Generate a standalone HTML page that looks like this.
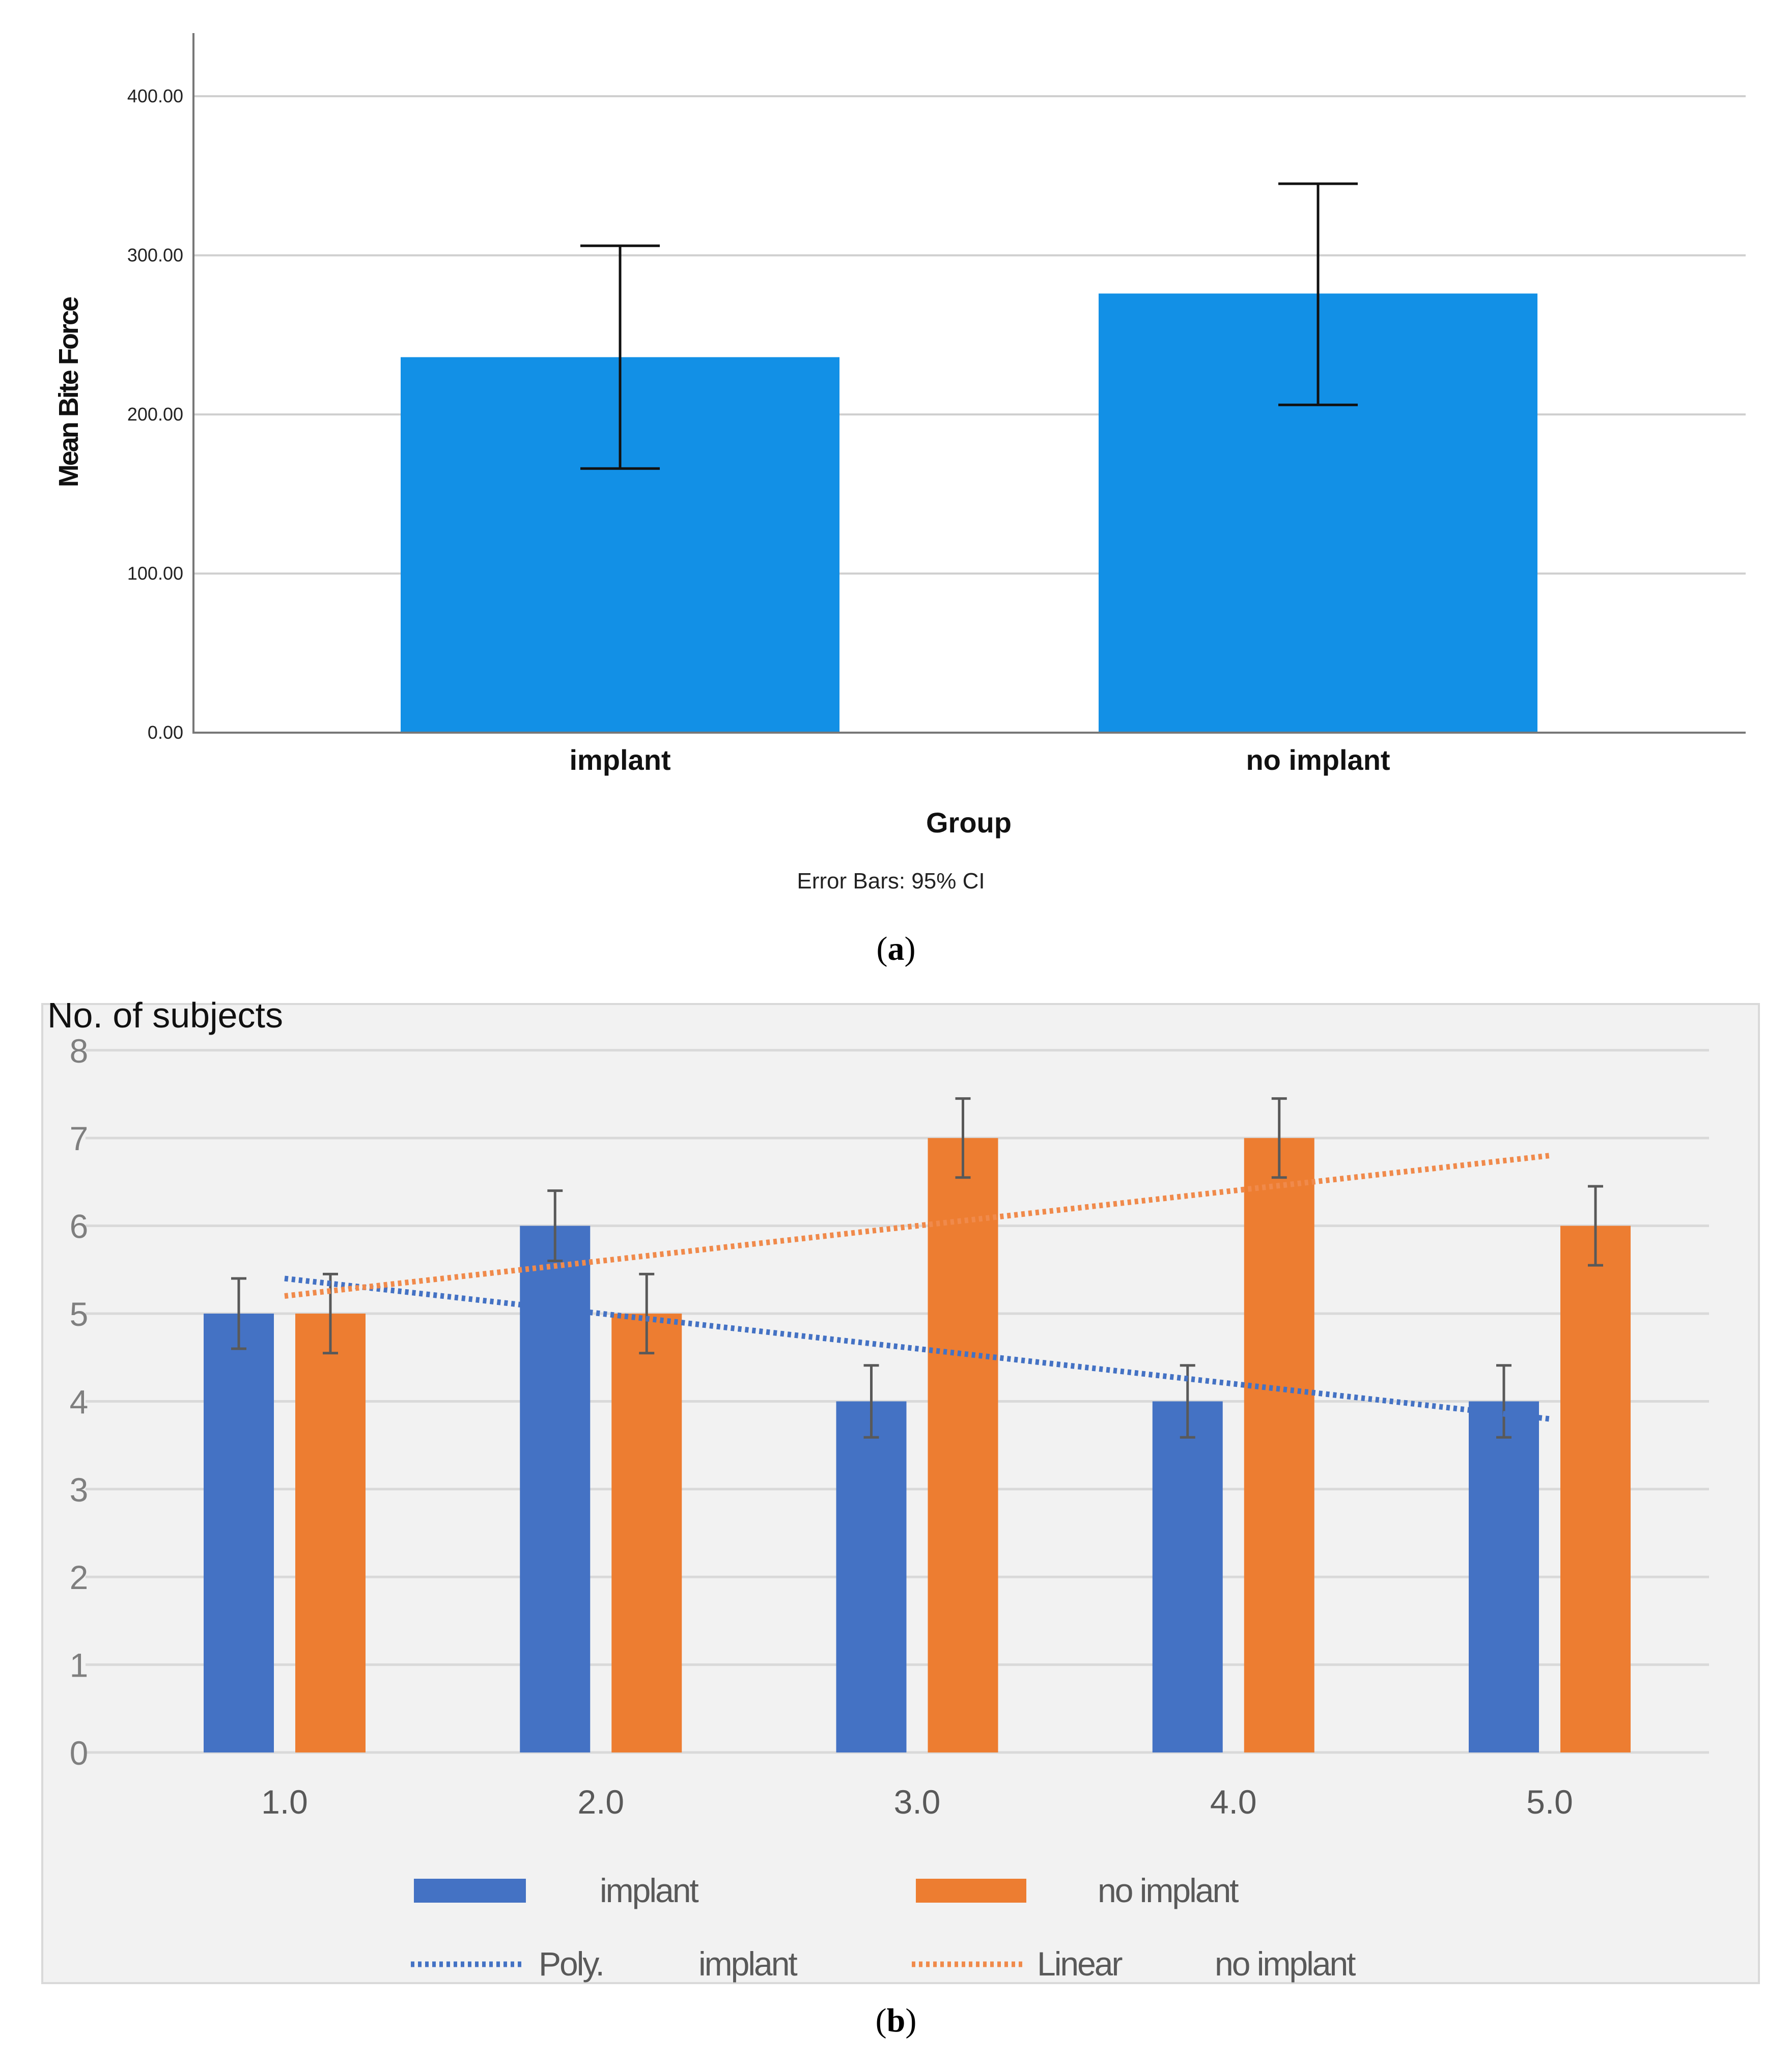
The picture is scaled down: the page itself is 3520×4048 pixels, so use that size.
<!DOCTYPE html>
<html><head><meta charset="utf-8"><style>
html,body{margin:0;padding:0;background:#fff;}
svg{display:block;}
text{font-family:"Liberation Sans",sans-serif;}
</style></head><body>
<svg id="root" width="3520" height="4048" viewBox="0 0 3520 4048" xmlns="http://www.w3.org/2000/svg">
<g id="chartA"></g>
<text x="1760" y="1885" text-anchor="middle" font-size="66" style="font-family:'Liberation Serif',serif">(<tspan font-weight="bold">a</tspan>)</text>
<rect x="83" y="1972" width="3372" height="1923" fill="#f2f2f2" stroke="#d9d9d9" stroke-width="4"/>
<g id="chartB"></g>
<text x="1760" y="3990" text-anchor="middle" font-size="66" style="font-family:'Liberation Serif',serif">(<tspan font-weight="bold">b</tspan>)</text>
</svg>
<script>
// ---- Chart A data ----
const groupsA = ["implant", "no implant"];
const meansA = [236, 276];
const ciLowA = [166, 206];
const ciHighA = [306, 345];
const ticksA = [0, 100, 200, 300, 400];
const tickLabelsA = ["0.00", "100.00", "200.00", "300.00", "400.00"];

// ---- Chart B data ----
const catsB = ["1.0", "2.0", "3.0", "4.0", "5.0"];
const implantB = [5, 6, 4, 4, 4];
const noImplantB = [5, 5, 7, 7, 6];
const implantErrB = [0.4, 0.4, 0.41, 0.41, 0.41];
const noImplantErrB = [0.45, 0.45, 0.45, 0.45, 0.45];
const ticksB = [0, 1, 2, 3, 4, 5, 6, 7, 8];

const NS = "http://www.w3.org/2000/svg";
function mk(parent, tag, attrs, txt) {
  const e = document.createElementNS(NS, tag);
  for (const k in attrs) e.setAttribute(k, attrs[k]);
  if (txt !== undefined) e.textContent = txt;
  parent.appendChild(e);
  return e;
}

// ===== Chart A =====
(function () {
  const g = document.getElementById("chartA");
  const x0 = 380, x1 = 3429, yZero = 1439, yPer = 312.5 / 100;
  const yA = v => yZero - v * yPer;
  const centers = [1218, 2589];
  const bw = 862;
  ticksA.forEach((t, i) => {
    if (t > 0) {
      const l = mk(g, "line", {x1: x0, x2: x1, y1: yA(t), y2: yA(t), stroke: "#cfcfcf", "stroke-width": 4});
      
      
    }
    const tx = mk(g, "text", {x: 360, y: yA(t) + 12, "text-anchor": "end", "font-size": 36, fill: "#222"}, tickLabelsA[i]);
    
    
  });
  meansA.forEach((m, i) => {
    const c = centers[i];
    const r = mk(g, "rect", {x: c - bw / 2, y: yA(m), width: bw, height: yA(0) - yA(m), fill: "#1290e6"});
    
    
    const e = mk(g, "path", {d: `M${c},${yA(ciLowA[i])}V${yA(ciHighA[i])}M${c - 78},${yA(ciLowA[i])}H${c + 78}M${c - 78},${yA(ciHighA[i])}H${c + 78}`, stroke: "#111", "stroke-width": 5, fill: "none"});
    
    
    const lb = mk(g, "text", {x: c, y: 1512, "text-anchor": "middle", "font-size": 56, "font-weight": "bold", fill: "#111"}, groupsA[i]);
    
    
  });
  const ax = mk(g, "path", {d: `M${x0},65V${yZero}H${x1}`, stroke: "#777", "stroke-width": 4, fill: "none"});
  
  
  const yt = mk(g, "text", {x: 0, y: 0, transform: "translate(153,771) rotate(-90)", "text-anchor": "middle", "font-size": 54, "font-weight": "bold", fill: "#111", "letter-spacing": "-3"}, "Mean Bite Force");
  
  
  const xt = mk(g, "text", {x: 1903, y: 1635, "text-anchor": "middle", "font-size": 56, "font-weight": "bold", fill: "#111"}, "Group");
  
  
  const nt = mk(g, "text", {x: 1750, y: 1745, "text-anchor": "middle", "font-size": 44, fill: "#222"}, "Error Bars: 95% CI");
  
  
})();

// ===== Chart B =====
(function () {
  const g = document.getElementById("chartB");
  const gx0 = 168, gx1 = 3357, yZero = 3442, yPer = 172.4;
  const yB = v => yZero - v * yPer;
  const xB = i => 559 + i * 621.25;
  const bw = 138, off = 90;
  ticksB.forEach(t => {
    const l = mk(g, "line", {x1: gx0, x2: gx1, y1: yB(t), y2: yB(t), stroke: "#d9d9d9", "stroke-width": 5});
    
    
    const tx = mk(g, "text", {x: 155, y: yB(t) + 24, "text-anchor": "middle", "font-size": 66, fill: "#7f7f7f"}, String(t));
    
    
  });
  function errBar(cx, v, err) {
    const p = mk(g, "path", {d: `M${cx},${yB(v - err)}V${yB(v + err)}M${cx - 15},${yB(v - err)}H${cx + 15}M${cx - 15},${yB(v + err)}H${cx + 15}`, stroke: "#595959", "stroke-width": 5, fill: "none"});
    
    
  }
  catsB.forEach((c, i) => {
    const bx = xB(i) - off, ox = xB(i) + off;
    const r1 = mk(g, "rect", {x: bx - bw / 2, y: yB(implantB[i]), width: bw, height: yB(0) - yB(implantB[i]), fill: "#4472c4"});
    
    
    const r2 = mk(g, "rect", {x: ox - bw / 2, y: yB(noImplantB[i]), width: bw, height: yB(0) - yB(noImplantB[i]), fill: "#ed7d31"});
    
    
    errBar(bx, implantB[i], implantErrB[i]);
    errBar(ox, noImplantB[i], noImplantErrB[i]);
    const tx = mk(g, "text", {x: xB(i), y: 3562, "text-anchor": "middle", "font-size": 66, fill: "#595959"}, c);
    
    
  });
  // least-squares fits from data
  function fit(ys) {
    const n = ys.length, xs = ys.map((_, i) => i + 1);
    const mx = xs.reduce((a, b) => a + b) / n, my = ys.reduce((a, b) => a + b) / n;
    let sxy = 0, sxx = 0;
    xs.forEach((x, i) => { sxy += (x - mx) * (ys[i] - my); sxx += (x - mx) * (x - mx); });
    const b = sxy / sxx;
    return x => my + b * (x - mx);
  }
  const fI = fit(implantB), fN = fit(noImplantB);
  const n = catsB.length;
  const t1 = mk(g, "line", {x1: xB(0), y1: yB(fI(1)), x2: xB(n - 1), y2: yB(fI(n)), stroke: "#4472c4", "stroke-width": 11, "stroke-dasharray": "7 7"});
  
  
  const t2 = mk(g, "line", {x1: xB(0), y1: yB(fN(1)), x2: xB(n - 1), y2: yB(fN(n)), stroke: "#f08a4b", "stroke-width": 11, "stroke-dasharray": "7 7"});
  
  

  const tt = mk(g, "text", {x: 93, y: 2018, "font-size": 70, fill: "#111"}, "No. of subjects");
  
  

  // legend
  const s1 = mk(g, "rect", {x: 813, y: 3690, width: 220, height: 47, fill: "#4472c4"});
  
  
  const l1 = mk(g, "text", {x: 1178, y: 3736, "font-size": 66, fill: "#595959", "letter-spacing": "-3"}, "implant");
  
  
  const s2 = mk(g, "rect", {x: 1799, y: 3690, width: 217, height: 47, fill: "#ed7d31"});
  
  
  const l2 = mk(g, "text", {x: 2156, y: 3736, "font-size": 66, fill: "#595959", "letter-spacing": "-3"}, "no implant");
  
  
  const d1 = mk(g, "line", {x1: 807, x2: 1027, y1: 3858, y2: 3858, stroke: "#4472c4", "stroke-width": 11, "stroke-dasharray": "7 7"});
  
  
  const l3 = mk(g, "text", {x: 1058, y: 3880, "font-size": 66, fill: "#595959", "letter-spacing": "-3"}, "Poly.");
  
  
  const l4 = mk(g, "text", {x: 1372, y: 3880, "font-size": 66, fill: "#595959", "letter-spacing": "-3"}, "implant");
  
  
  const d2 = mk(g, "line", {x1: 1791, x2: 2011, y1: 3858, y2: 3858, stroke: "#f08a4b", "stroke-width": 11, "stroke-dasharray": "7 7"});
  
  
  const l5 = mk(g, "text", {x: 2037, y: 3880, "font-size": 66, fill: "#595959", "letter-spacing": "-3"}, "Linear");
  
  
  const l6 = mk(g, "text", {x: 2386, y: 3880, "font-size": 66, fill: "#595959", "letter-spacing": "-3"}, "no implant");
  
  
})();
</script>
</body></html>
